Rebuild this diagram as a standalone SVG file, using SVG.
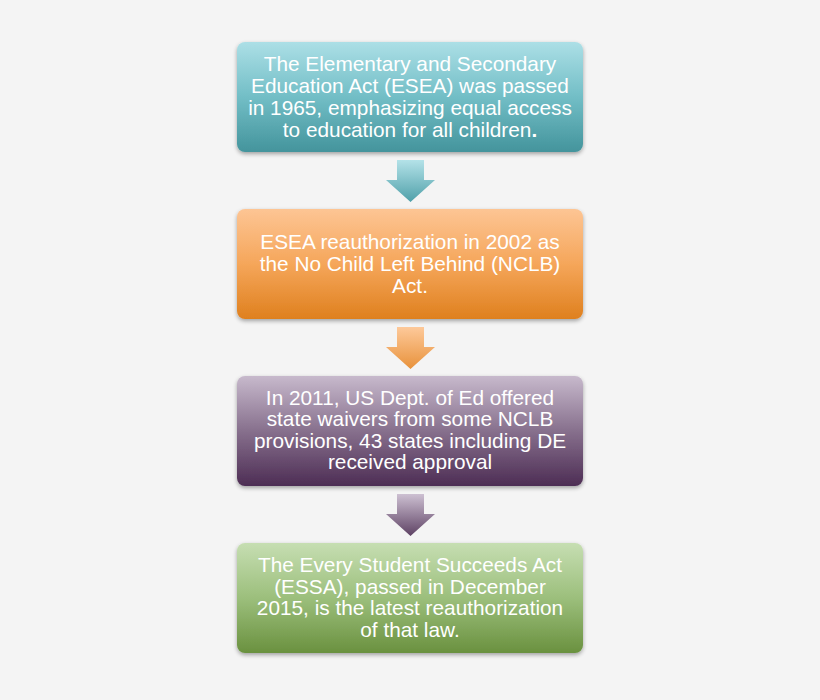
<svg xmlns="http://www.w3.org/2000/svg" width="820" height="700" viewBox="0 0 820 700">
<defs>
<linearGradient id="gTeal" x1="0" y1="0" x2="0" y2="1"><stop offset="0" stop-color="#acdfe6"/><stop offset="0.5" stop-color="#72bec6"/><stop offset="1" stop-color="#44949c"/></linearGradient>
<linearGradient id="gOrange" x1="0" y1="0" x2="0" y2="1"><stop offset="0" stop-color="#fdc594"/><stop offset="0.5" stop-color="#f5a65a"/><stop offset="1" stop-color="#df801e"/></linearGradient>
<linearGradient id="gPurple" x1="0" y1="0" x2="0" y2="1"><stop offset="0" stop-color="#c7b9cc"/><stop offset="0.5" stop-color="#87708d"/><stop offset="1" stop-color="#4d2d54"/></linearGradient>
<linearGradient id="gGreen" x1="0" y1="0" x2="0" y2="1"><stop offset="0" stop-color="#c6deb2"/><stop offset="0.5" stop-color="#9cbf7c"/><stop offset="1" stop-color="#6a913f"/></linearGradient>
<linearGradient id="aTeal" x1="0" y1="0" x2="0" y2="1"><stop offset="0" stop-color="#b4e2e8"/><stop offset="1" stop-color="#4fa0a9"/></linearGradient>
<linearGradient id="aOrange" x1="0" y1="0" x2="0" y2="1"><stop offset="0" stop-color="#fdc99a"/><stop offset="1" stop-color="#e8923b"/></linearGradient>
<linearGradient id="aPurple" x1="0" y1="0" x2="0" y2="1"><stop offset="0" stop-color="#cdc0d2"/><stop offset="1" stop-color="#5e4264"/></linearGradient>
<filter id="sh" x="-10%" y="-10%" width="120%" height="130%"><feGaussianBlur in="SourceAlpha" stdDeviation="2"/><feOffset dy="2"/><feComponentTransfer><feFuncA type="linear" slope="0.35"/></feComponentTransfer><feMerge><feMergeNode/><feMergeNode in="SourceGraphic"/></feMerge></filter>
</defs>
<style>
.box{filter:url(#sh)}
.t{font-family:"Liberation Sans",Arial,sans-serif;font-size:20.8px;fill:#ffffff;text-anchor:middle}
</style>
<rect width="820" height="700" fill="#f4f4f4"/>
<g id="connectors">
<path d="M397 160 H424 V180 H435 L410.5 202 L386 180 H397 Z" fill="url(#aTeal)"/>
<path d="M397 327 H424 V347 H435 L410.5 369 L386 347 H397 Z" fill="url(#aOrange)"/>
<path d="M397 494 H424 V514 H435 L410.5 536 L386 514 H397 Z" fill="url(#aPurple)"/>
</g>
<g id="node1">
<rect class="box" x="237" y="42" width="346" height="110" rx="8" fill="url(#gTeal)"/>
<text class="t"><tspan x="410" y="71">The Elementary and Secondary</tspan><tspan x="410" y="93">Education Act (ESEA) was passed</tspan><tspan x="410" y="115">in 1965, emphasizing equal access</tspan><tspan x="410" y="137">to education for all children<tspan font-weight="bold">.</tspan></tspan></text>
</g>
<g id="node2">
<rect class="box" x="237" y="209" width="346" height="110" rx="8" fill="url(#gOrange)"/>
<text class="t"><tspan x="410" y="249">ESEA reauthorization in 2002 as</tspan><tspan x="410" y="271">the No Child Left Behind (NCLB)</tspan><tspan x="410" y="293">Act.</tspan></text>
</g>
<g id="node3">
<rect class="box" x="237" y="376" width="346" height="110" rx="8" fill="url(#gPurple)"/>
<text class="t"><tspan x="410" y="405">In 2011, US Dept. of Ed offered</tspan><tspan x="410" y="426">state waivers from some NCLB</tspan><tspan x="410" y="448">provisions, 43 states including DE</tspan><tspan x="410" y="469">received approval</tspan></text>
</g>
<g id="node4">
<rect class="box" x="237" y="543" width="346" height="110" rx="8" fill="url(#gGreen)"/>
<text class="t"><tspan x="410" y="572">The Every Student Succeeds Act</tspan><tspan x="410" y="594">(ESSA), passed in December</tspan><tspan x="410" y="615">2015, is the latest reauthorization</tspan><tspan x="410" y="637">of that law.</tspan></text>
</g>
</svg>
